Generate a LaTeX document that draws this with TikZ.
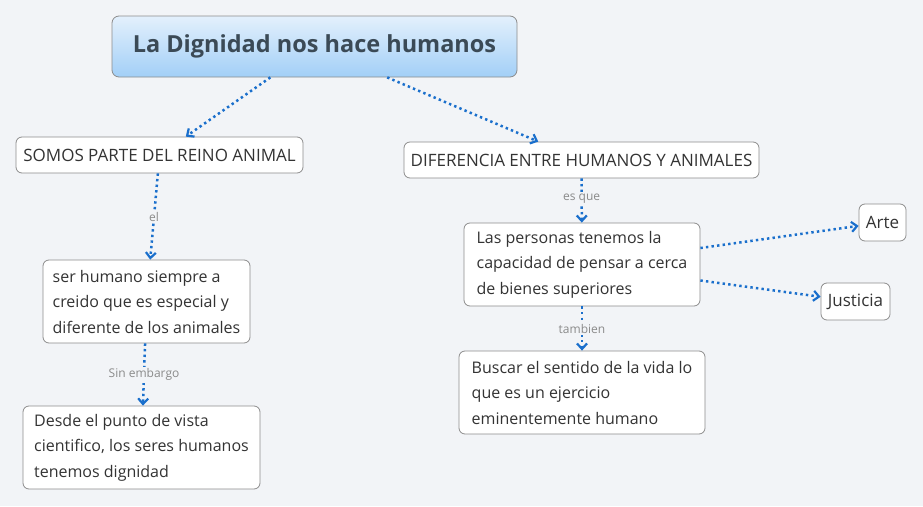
\documentclass[tikz,border=0pt]{standalone}
\usepackage{fontspec}
\setmainfont{Open Sans}
\usetikzlibrary{arrows.meta}
\definecolor{bg}{HTML}{F2F4F7}
\definecolor{edge}{HTML}{8C8C8C}
\definecolor{link}{HTML}{1A6FCC}
\definecolor{txt}{HTML}{333333}
\definecolor{lbl}{HTML}{8A8A8A}
\definecolor{ttop}{HTML}{E3F0FC}
\definecolor{tbot}{HTML}{A2CFF7}
\definecolor{ttxt}{HTML}{3B4A56}
\tikzset{
  box/.style={draw=edge, line width=0.8pt, fill=white, rounded corners=6pt, text=txt, font=\fontsize{17}{25.5}\selectfont, inner sep=2pt},
  tbox/.style={box, align=left, font=\fontsize{16}{25.5}\selectfont},
  title/.style={draw=edge, line width=0.8pt, rounded corners=7pt, top color=ttop, bottom color=tbot, text=ttxt, font=\fontsize{23.5}{28}\selectfont\bfseries},
  conn/.style={link, line width=2.5pt, dash pattern=on 2.4pt off 3.2pt, -{Straight Barb[length=5.5pt,width=10pt,line width=2.2pt]}},
  lab/.style={fill=bg, text=lbl, font=\fontsize{12}{14}\selectfont, inner sep=2pt}
}
\begin{document}
\begin{tikzpicture}[x=1pt,y=-1pt]
\fill[bg] (0,0) rectangle (923,506);
\useasboundingbox (0,0) rectangle (923,506);
\node[title, minimum width=405pt, minimum height=61pt] (t) at (314.5,46.5) {La Dignidad nos hace humanos};
\node[box, minimum width=287pt, minimum height=36pt] (somos) at (159.5,155) {SOMOS PARTE DEL REINO ANIMAL};
\node[box, minimum width=355pt, minimum height=36pt] (dif) at (581.5,160) {DIFERENCIA ENTRE HUMANOS Y ANIMALES};
\node[tbox, minimum width=207pt, minimum height=83pt] (ser) at (146.5,301.5) {ser humano siempre a\\creido que es especial y\\diferente de los animales};
\node[tbox, minimum width=237pt, minimum height=83pt] (desde) at (141.5,447.5) {Desde el punto de vista\\cientifico, los seres humanos\\tenemos dignidad};
\node[tbox, minimum width=236pt, minimum height=83pt] (las) at (582,264.5) {Las personas tenemos la\\capacidad de pensar a cerca\\de bienes superiores};
\node[tbox, minimum width=246pt, minimum height=83pt] (bus) at (582,392.5) {Buscar el sentido de la vida lo\\que es un ejercicio\\eminentemente humano};
\node[box, minimum width=47pt, minimum height=37pt] (arte) at (882.5,222.5) {Arte};
\node[box, minimum width=69pt, minimum height=37pt] (just) at (855.5,301.5) {Justicia};
\draw[conn] (t) -- (somos);
\draw[conn] (t) -- (dif);
\draw[conn] (somos) -- node[lab] {el} (ser);
\draw[conn] (ser) -- node[lab] {Sin embargo} (desde);
\draw[conn] (dif) -- node[lab, pos=0.45] {es que} (las);
\draw[conn] (las) -- node[lab, pos=0.5] {tambien} (bus);
\draw[conn] (las) -- (arte);
\draw[conn] (las) -- (just);
\end{tikzpicture}
\end{document}
